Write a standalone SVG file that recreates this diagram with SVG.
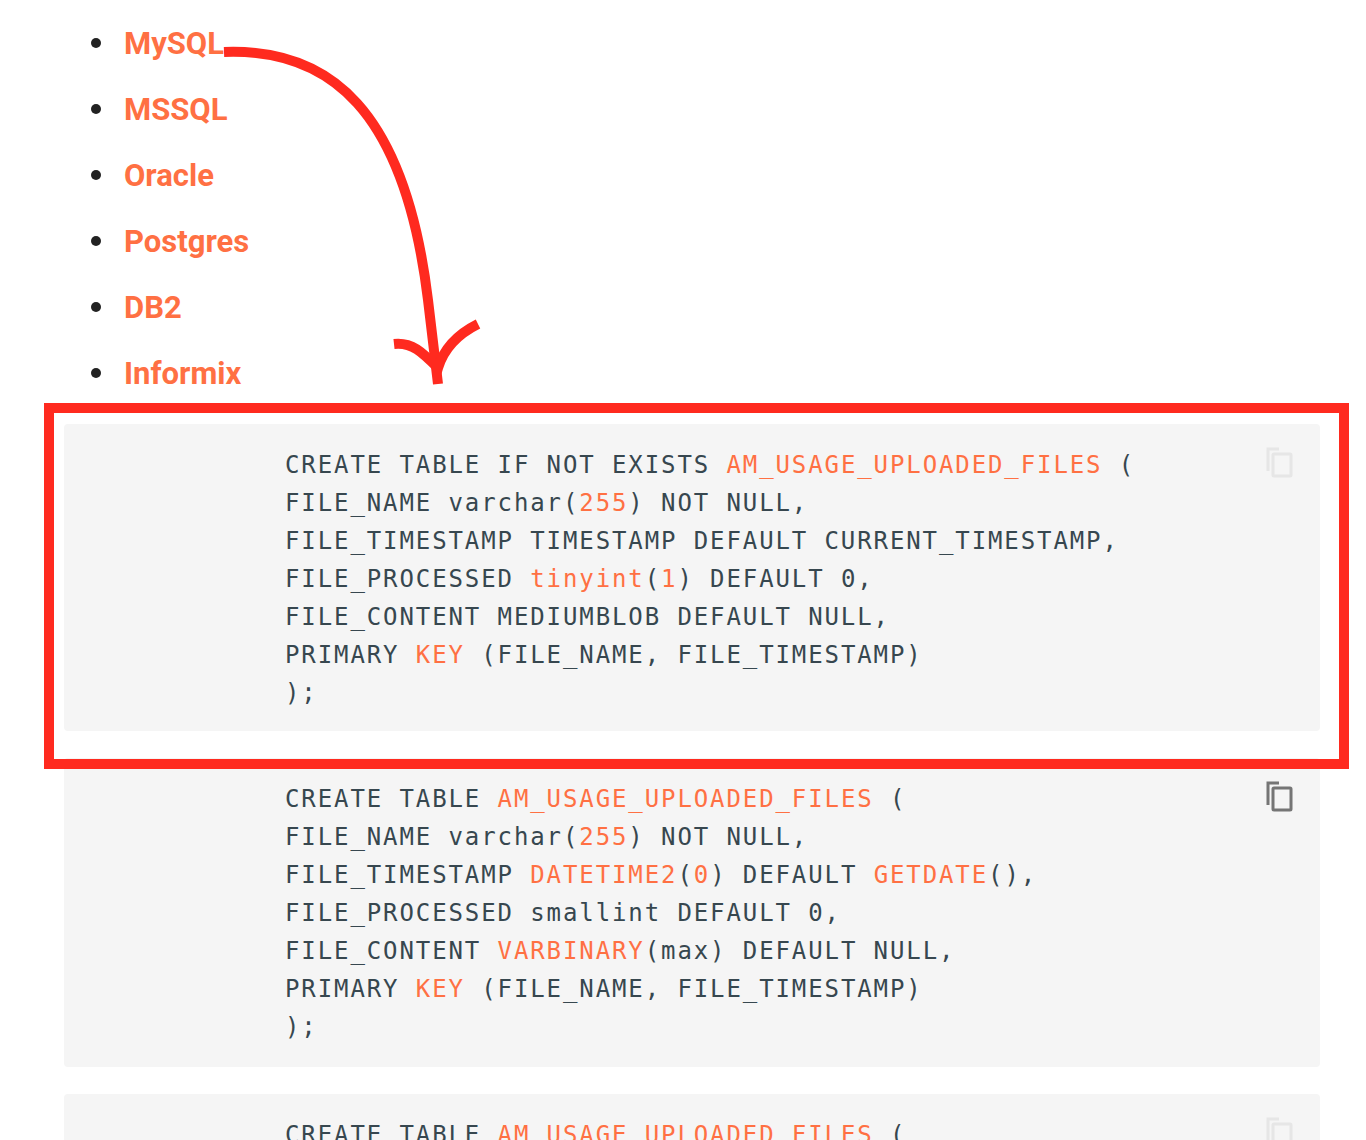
<svg xmlns="http://www.w3.org/2000/svg" width="1366" height="1140" viewBox="0 0 1366 1140">
<style>
.li{font-family:Roboto,"Liberation Sans",sans-serif;font-weight:bold;font-size:31px;fill:#ff7043}
.code{font-family:"DejaVu Sans Mono","Liberation Mono",monospace;font-size:24px;letter-spacing:1.9px;fill:#37474f}
.k{fill:#ff7043}
.box{fill:#f5f5f5}
.ic{fill:none;stroke-width:3}
.red{fill:none;stroke:#ff2a1f;stroke-width:10}
</style>
<rect width="1366" height="1140" fill="#fff"/>
<g id="list">
<circle cx="96" cy="43" r="5" fill="#222"/><text class="li" x="124" y="54">MySQL</text>
<circle cx="96" cy="109" r="5" fill="#222"/><text class="li" x="124" y="120">MSSQL</text>
<circle cx="96" cy="175" r="5" fill="#222"/><text class="li" x="124" y="186">Oracle</text>
<circle cx="96" cy="241" r="5" fill="#222"/><text class="li" x="124" y="252">Postgres</text>
<circle cx="96" cy="307" r="5" fill="#222"/><text class="li" x="124" y="318">DB2</text>
<circle cx="96" cy="373" r="5" fill="#222"/><text class="li" x="124" y="384">Informix</text>
</g>
<g id="block1">
<rect class="box" x="64" y="424" width="1256" height="307" rx="4"/>
<g class="code">
<text x="285" y="473">CREATE TABLE IF NOT EXISTS <tspan class="k">AM_USAGE_UPLOADED_FILES</tspan> (</text>
<text x="285" y="511">FILE_NAME varchar(<tspan class="k">255</tspan>) NOT NULL,</text>
<text x="285" y="549">FILE_TIMESTAMP TIMESTAMP DEFAULT CURRENT_TIMESTAMP,</text>
<text x="285" y="587">FILE_PROCESSED <tspan class="k">tinyint</tspan>(<tspan class="k">1</tspan>) DEFAULT 0,</text>
<text x="285" y="625">FILE_CONTENT MEDIUMBLOB DEFAULT NULL,</text>
<text x="285" y="663">PRIMARY <tspan class="k">KEY</tspan> (FILE_NAME, FILE_TIMESTAMP)</text>
<text x="285" y="701">);</text>
</g>
<g class="ic" stroke="#e6e6e6"><path d="M1279,449 h-11 v22"/><rect x="1273" y="454" width="18" height="22" rx="1"/></g>
</g>
<g id="block2">
<rect class="box" x="64" y="758" width="1256" height="309" rx="4"/>
<g class="code">
<text x="285" y="807">CREATE TABLE <tspan class="k">AM_USAGE_UPLOADED_FILES</tspan> (</text>
<text x="285" y="845">FILE_NAME varchar(<tspan class="k">255</tspan>) NOT NULL,</text>
<text x="285" y="883">FILE_TIMESTAMP <tspan class="k">DATETIME2</tspan>(<tspan class="k">0</tspan>) DEFAULT <tspan class="k">GETDATE</tspan>(),</text>
<text x="285" y="921">FILE_PROCESSED smallint DEFAULT 0,</text>
<text x="285" y="959">FILE_CONTENT <tspan class="k">VARBINARY</tspan>(max) DEFAULT NULL,</text>
<text x="285" y="997">PRIMARY <tspan class="k">KEY</tspan> (FILE_NAME, FILE_TIMESTAMP)</text>
<text x="285" y="1035">);</text>
</g>
<g class="ic" stroke="#757575"><path d="M1279,783 h-11 v22"/><rect x="1273" y="788" width="18" height="22" rx="1"/></g>
</g>
<g id="block3">
<rect class="box" x="64" y="1094" width="1256" height="80" rx="4"/>
<g class="code">
<text x="285" y="1143">CREATE TABLE <tspan class="k">AM_USAGE_UPLOADED_FILES</tspan> (</text>
</g>
<g class="ic" stroke="#e6e6e6"><path d="M1279,1119 h-11 v22"/><rect x="1273" y="1124" width="18" height="22" rx="1"/></g>
</g>
<g id="connectors">
<rect class="red" x="49" y="408" width="1295" height="356"/>
<path class="red" d="M224,52 C330,48 405,110 428,300 L438,384" stroke-width="8"/>
<path class="red" d="M394,344 C412,342 422,352 438,368 C444,348 458,334 478,324" stroke-width="8"/>
</g>
</svg>
